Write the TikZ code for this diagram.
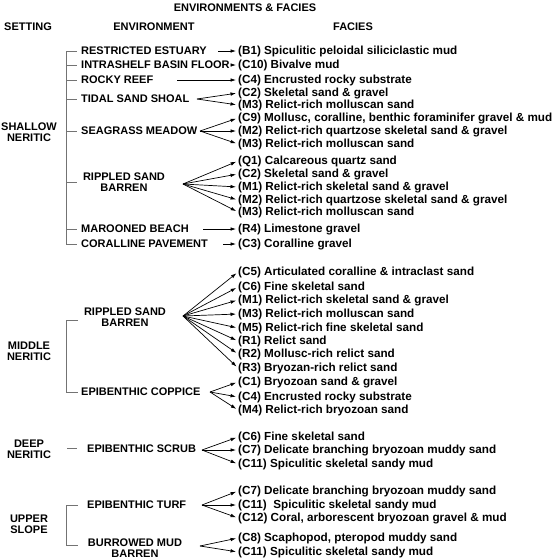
\documentclass[tikz,border=0pt]{standalone}
\usepackage{fontspec}
\setmainfont{Liberation Sans}
\usetikzlibrary{arrows.meta}
\definecolor{brk}{RGB}{115,115,115}
\begin{document}
\begin{tikzpicture}[x=1pt,y=-1pt,
  lab/.style={font=\fontsize{11}{11}\selectfont\bfseries,inner sep=0pt},
  env/.style={lab,anchor=west},
  envc/.style={lab,align=center},
  fac/.style={font=\fontsize{11.7}{12}\selectfont\bfseries,inner sep=0pt,anchor=west},
  arr/.style={-{Latex[length=5.5pt,width=3.6pt]},line width=0.7pt,shorten >=2pt},
  bk/.style={draw=brk,line width=1pt}]
\useasboundingbox (0,0) rectangle (553,560);
% headers
\node[lab] (h0) at (245,8) {ENVIRONMENTS \& FACIES};
\node[lab] (h1) at (28,27) {SETTING};
\node[lab] (h2) at (154,27) {ENVIRONMENT};
\node[lab] (h3) at (353,27) {FACIES};
% settings
\node[envc] (s1) at (29,132) {SHALLOW\\NERITIC};
\node[envc] (s2) at (29,351) {MIDDLE\\NERITIC};
\node[envc] (s3) at (29,449) {DEEP\\NERITIC};
\node[envc] (s4) at (29,524) {UPPER\\SLOPE};
% environments
\node[env] (e1) at (81,51) {RESTRICTED ESTUARY};
\node[env] (e2) at (81,65) {INTRASHELF BASIN FLOOR};
\node[env] (e3) at (81,80) {ROCKY REEF};
\node[env] (e4) at (81,99) {TIDAL SAND SHOAL};
\node[env] (e5) at (81,131) {SEAGRASS MEADOW};
\node[envc] (e6) at (124,182) {RIPPLED SAND\\BARREN};
\node[env] (e7) at (81,229) {MAROONED BEACH};
\node[env] (e8) at (81,244) {CORALLINE PAVEMENT};
\node[envc] (e9) at (125,317) {RIPPLED SAND\\BARREN};
\node[env] (e10) at (81,392) {EPIBENTHIC COPPICE};
\node[env] (e11) at (87,449) {EPIBENTHIC SCRUB};
\node[env] (e12) at (87,505) {EPIBENTHIC TURF};
\node[envc] (e13) at (135,548) {BURROWED MUD\\BARREN};
% facies
\node[fac] (f1) at (238,51) {(B1) Spiculitic peloidal siliciclastic mud};
\node[fac] (f2) at (238,65) {(C10) Bivalve mud};
\node[fac] (f3) at (238,80) {(C4) Encrusted rocky substrate};
\node[fac] (f4) at (238,93) {(C2) Skeletal sand \& gravel};
\node[fac] (f5) at (238,105) {(M3) Relict-rich molluscan sand};
\node[fac] (f6) at (238,118) {(C9) Mollusc, coralline, benthic foraminifer gravel \& mud};
\node[fac] (f7) at (238,131) {(M2) Relict-rich quartzose skeletal sand \& gravel};
\node[fac] (f8) at (238,144) {(M3) Relict-rich molluscan sand};
\node[fac] (f9) at (238,161) {(Q1) Calcareous quartz sand};
\node[fac] (f10) at (238,174) {(C2) Skeletal sand \& gravel};
\node[fac] (f11) at (238,187) {(M1) Relict-rich skeletal sand \& gravel};
\node[fac] (f12) at (238,200) {(M2) Relict-rich quartzose skeletal sand \& gravel};
\node[fac] (f13) at (238,212) {(M3) Relict-rich molluscan sand};
\node[fac] (f14) at (238,229) {(R4) Limestone gravel};
\node[fac] (f15) at (238,244) {(C3) Coralline gravel};
\node[fac] (g1) at (238,272) {(C5) Articulated coralline \& intraclast sand};
\node[fac] (g2) at (238,287) {(C6) Fine skeletal sand};
\node[fac] (g3) at (238,300) {(M1) Relict-rich skeletal sand \& gravel};
\node[fac] (g4) at (238,314) {(M3) Relict-rich molluscan sand};
\node[fac] (g5) at (238,328) {(M5) Relict-rich fine skeletal sand};
\node[fac] (g6) at (238,341) {(R1) Relict sand};
\node[fac] (g7) at (238,354) {(R2) Mollusc-rich relict sand};
\node[fac] (g8) at (238,368) {(R3) Bryozan-rich relict sand};
\node[fac] (g9) at (238,382) {(C1) Bryozoan sand \& gravel};
\node[fac] (g10) at (238,397) {(C4) Encrusted rocky substrate};
\node[fac] (g11) at (238,410) {(M4) Relict-rich bryozoan sand};
\node[fac] (d1) at (238,437) {(C6) Fine skeletal sand};
\node[fac] (d2) at (238,450) {(C7) Delicate branching bryozoan muddy sand};
\node[fac] (d3) at (238,464) {(C11) Spiculitic skeletal sandy mud};
\node[fac] (u1) at (238,491) {(C7) Delicate branching bryozoan muddy sand};
\node[fac] (u2) at (238,505) {(C11)\ \ Spiculitic skeletal sandy mud};
\node[fac] (u3) at (238,518) {(C12) Coral, arborescent bryozoan gravel \& mud};
\node[fac] (u4) at (238,538) {(C8) Scaphopod, pteropod muddy sand};
\node[fac] (u5) at (238,552) {(C11) Spiculitic skeletal sandy mud};
% arrow sources
\coordinate (a1) at (218,51);
\coordinate (a2) at (232,65);
\coordinate (a3) at (177,80);
\coordinate (a4) at (197,99);
\coordinate (a5) at (200,131);
\coordinate (a6) at (183,184);
\coordinate (a7) at (203,229);
\coordinate (a8) at (223,244);
\coordinate (a9) at (183,316);
\coordinate (a10) at (210,392);
\coordinate (a11) at (202,450);
\coordinate (a12) at (202,505);
\coordinate (a13) at (200,546);
\draw[arr] (a1) -- (f1.west);
\draw[arr] (a2) -- (f2.west);
\draw[arr] (a3) -- (f3.west);
\foreach \f in {f4,f5} \draw[arr] (a4) -- (\f.west);
\foreach \f in {f6,f7,f8} \draw[arr] (a5) -- (\f.west);
\foreach \f in {f9,f10,f11,f12,f13} \draw[arr] (a6) -- (\f.west);
\draw[arr] (a7) -- (f14.west);
\draw[arr] (a8) -- (f15.west);
\foreach \f in {g1,g2,g3,g4,g5,g6,g7,g8} \draw[arr] (a9) -- (\f.west);
\foreach \f in {g9,g10,g11} \draw[arr] (a10) -- (\f.west);
\foreach \f in {d1,d2,d3} \draw[arr] (a11) -- (\f.west);
\foreach \f in {u1,u2,u3} \draw[arr] (a12) -- (\f.west);
\foreach \f in {u4,u5} \draw[arr] (a13) -- (\f.west);
% brackets
\draw[bk] (77,51) -- (66,51) -- (66,244) -- (77,244);
\foreach \y in {65,80,99,131,182,229} \draw[bk] (66,\y) -- (77,\y);
\draw[bk] (78,320) -- (66,320) -- (66,392) -- (78,392);
\draw[bk] (67,448) -- (77,448);
\draw[bk] (78,505) -- (66,505) -- (66,545) -- (78,545);
\end{tikzpicture}
\end{document}
